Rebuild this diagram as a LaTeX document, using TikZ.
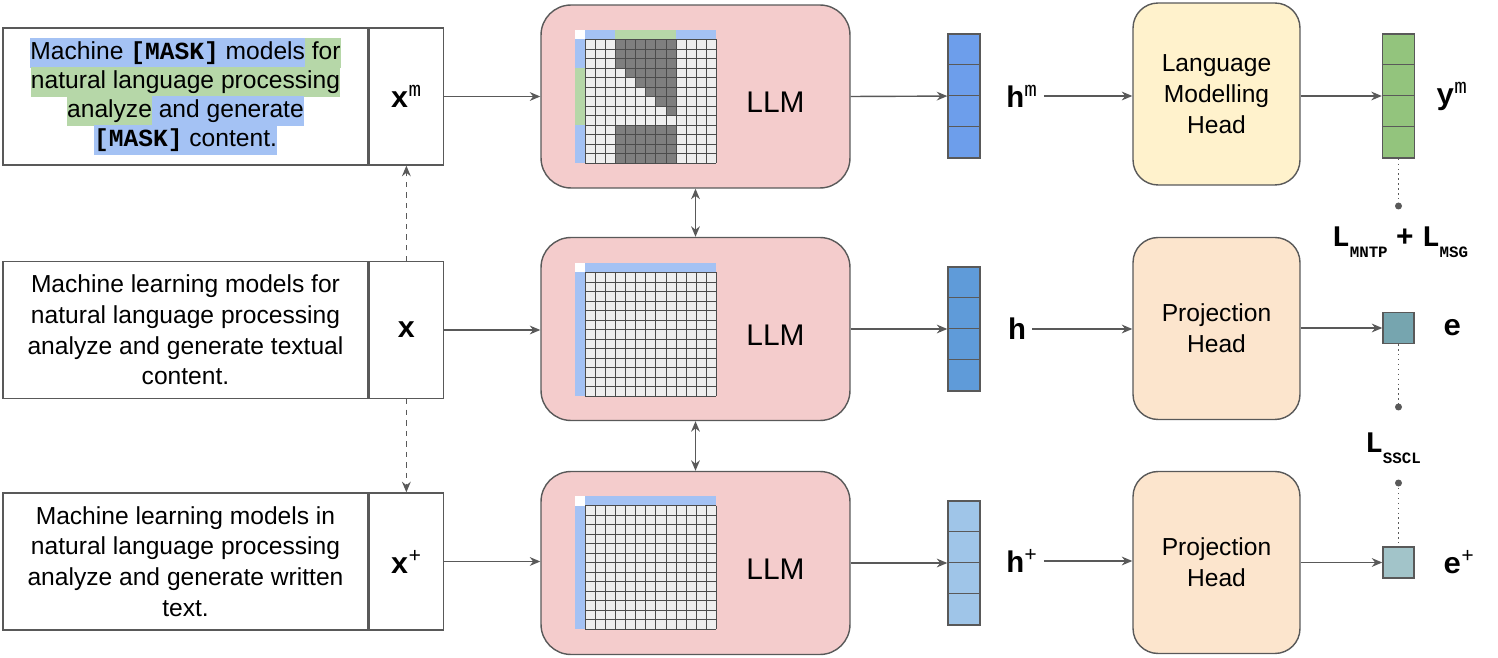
\documentclass[tikz,border=0pt]{standalone}
\usepackage{fontspec}
\setmainfont{Liberation Sans}
\setmonofont{Liberation Mono}
\usepackage{xcolor}
\usetikzlibrary{positioning,arrows.meta}

\definecolor{llmpink}{HTML}{F4CCCC}
\definecolor{edgegray}{HTML}{595959}
\definecolor{hlblue}{HTML}{A4C2F4}
\definecolor{hlgreen}{HTML}{B6D7A8}
\definecolor{cellgray}{HTML}{EFEFEF}
\definecolor{darkcell}{HTML}{7F7F7F}
\definecolor{headyellow}{HTML}{FFF2CC}
\definecolor{headorange}{HTML}{FCE5CD}
\definecolor{vecone}{HTML}{6D9EEB}
\definecolor{vectwo}{HTML}{5F9BD9}
\definecolor{vecthree}{HTML}{9FC5E8}
\definecolor{vecgreen}{HTML}{93C47D}
\definecolor{embone}{HTML}{76A5AF}
\definecolor{embtwo}{HTML}{A2C4C9}

\setlength{\fboxsep}{0pt}
\newcommand{\hlb}[1]{\colorbox{hlblue}{\strut #1}}
\newcommand{\hlg}[1]{\colorbox{hlgreen}{\strut #1}}
\newcommand{\mk}{\texttt{\textbf{[MASK]}}}
\newcommand{\vlab}[2]{\texttt{\textbf{#1}}\textsuperscript{\texttt{#2}}}
\newcommand{\loss}[1]{\texttt{\textbf{L}}\raisebox{-0.7ex}{\texttt{\textbf{\small #1}}}}

% attention grid: top-left corner, masked pattern flag
\newcommand{\attgrid}[3]{%
  \begin{scope}[shift={(#1,#2)}]
    \fill[white] (0,0) rectangle (10.1,9.5);
    \foreach \j in {1,...,13} {
      \pgfmathtruncatemacro\grn{(#3==1)&&(\j>3)&&(\j<10) ? 1 : 0}
      \ifnum\grn=1 \def\hc{hlgreen}\else\def\hc{hlblue}\fi
      \fill[\hc] ({\j*10.1},0) rectangle ({(\j+1)*10.1},9.5);
      \fill[\hc] (0,{\j*9.5}) rectangle (10.1,{(\j+1)*9.5});
    }
    \foreach \i in {1,...,13} \foreach \j in {1,...,13} {
      \pgfmathtruncatemacro\dk{(#3==1)&&(\j>3)&&(\j<10)&&((\i<4)||(\i>9)||(\j>\i)) ? 1 : 0}
      \ifnum\dk=1 \def\cc{darkcell}\else\def\cc{cellgray}\fi
      \fill[\cc] ({\j*10.1},{\i*9.5}) rectangle ({(\j+1)*10.1},{(\i+1)*9.5});
    }
    \foreach \k in {1,...,14} {
      \draw[black!70, line width=0.4pt] ({\k*10.1},9.5) -- ({\k*10.1},133);
      \draw[black!70, line width=0.4pt] (10.1,{\k*9.5}) -- (141.4,{\k*9.5});
    }
  \end{scope}}

% vector of four cells centred at a node
\newcommand{\veccells}[1]{%
  \foreach \k in {1,2,3}
    \draw[edgegray] ([yshift={-\k*0.62cm}]#1.north west) -- ([yshift={-\k*0.62cm}]#1.north east);}

\begin{document}
\begin{tikzpicture}[x=0.02cm, y=-0.02cm,
    txtbox/.style={rectangle, draw=edgegray, thick, minimum width=7.3cm, minimum height=2.74cm, align=center, font=\fontsize{14}{17.5}\selectfont},
    xbox/.style={rectangle, draw=edgegray, thick, minimum width=1.48cm, minimum height=2.74cm, font=\fontsize{17}{20}\selectfont},
    llm/.style={rectangle, rounded corners=0.6cm, draw=edgegray, thick, fill=llmpink, minimum width=6.18cm, minimum height=3.66cm},
    head/.style={rectangle, rounded corners=0.5cm, draw=edgegray, thick, minimum width=3.34cm, minimum height=3.64cm, align=center, font=\fontsize{14}{17.5}\selectfont},
    vec/.style={rectangle, draw=edgegray, thick, minimum width=0.64cm, minimum height=2.48cm, inner sep=0pt},
    emb/.style={rectangle, draw=edgegray, thick, minimum size=0.62cm, inner sep=0pt},
    lab/.style={font=\fontsize{17}{20}\selectfont},
    arrow/.style={-{Stealth[length=6pt, width=5pt]}, edgegray, thick},
    dots/.style={dotted, edgegray, thick}
]
\useasboundingbox (0,0) rectangle (1498,658);

% Inputs
\node[txtbox] (tm) at (185.5,96.5) {\hlb{Machine \mk{} models}\hlg{ for}\\[-1pt]\hlg{natural language processing}\\[-1pt]\hlg{analyze}\hlb{ and generate}\\[-1pt]\hlb{\mk{} content.}};
\node[txtbox] (t) at (185.5,330) {Machine learning models for\\natural language processing\\analyze and generate textual\\content.};
\node[txtbox] (tp) at (185.5,561.5) {Machine learning models in\\natural language processing\\analyze and generate written\\text.};
\node[xbox, right=0pt of tm] (xm) {\vlab{x}{m}};
\node[xbox, right=0pt of t] (x) {\texttt{\textbf{x}}};
\node[xbox, right=0pt of tp] (xp) {\vlab{x}{+}};

\draw[arrow, dashed] (x) -- (xm);
\draw[arrow, dashed] (x) -- (xp);

% Encoders
\node[llm] (llmm) at (695.5,96.5) {};
\node[llm] (llm) at (695.5,329) {};
\node[llm] (llmp) at (695.5,563) {};
\attgrid{575}{30}{1}
\attgrid{575}{263}{0}
\attgrid{575}{496}{0}
\foreach \n in {llmm,llm,llmp}
  \node[font=\fontsize{17}{20}\selectfont] at ([xshift=1.6cm,yshift=-0.12cm]\n.center) {LLM};

\draw[{Stealth[length=6pt, width=5pt]}-{Stealth[length=6pt, width=5pt]}, edgegray, thick] (llmm) -- (llm);
\draw[{Stealth[length=6pt, width=5pt]}-{Stealth[length=6pt, width=5pt]}, edgegray, thick] (llm) -- (llmp);

\draw[arrow] (xm) -- (llmm.west |- xm);
\draw[arrow] (x) -- (llm.west |- x);
\draw[arrow] (xp) -- (llmp.west |- xp);

% Hidden states
\node[vec, fill=vecone] (vm) at (964,96) {};
\node[vec, fill=vectwo] (v) at (964,329) {};
\node[vec, fill=vecthree] (vp) at (964,563) {};
\veccells{vm}\veccells{v}\veccells{vp}
\draw[arrow] (llmm.east) -- (vm);
\draw[arrow] (llm.east) -- (v);
\draw[arrow] (llmp.east) -- (vp);

\node[lab] (hm) at (1022,96) {\vlab{h}{m}};
\node[lab] (h) at (1017,329) {\texttt{\textbf{h}}};
\node[lab] (hp) at (1022,561) {\vlab{h}{+}};

% Heads
\node[head, fill=headyellow] (lmh) at (1216.5,94) {Language\\Modelling\\Head};
\node[head, fill=headorange] (ph) at (1216.5,328.5) {Projection\\Head};
\node[head, fill=headorange] (php) at (1216.5,562.5) {Projection\\Head};
\draw[arrow] (hm) -- (lmh.west |- hm);
\draw[arrow] (h) -- (ph.west |- h);
\draw[arrow] (hp) -- (php.west |- hp);

% Outputs
\node[vec, fill=vecgreen] (ym) at (1398.5,96) {};
\veccells{ym}
\node[emb, fill=embone] (e) at (1398.5,328) {};
\node[emb, fill=embtwo] (ep) at (1398.5,562.5) {};
\draw[arrow] (lmh.east |- ym) -- (ym);
\draw[arrow] (ph.east |- e) -- (e);
\draw[arrow] (php.east |- ep) -- (ep);

\node[lab, right=0.3cm of ym] {\vlab{y}{m}};
\node[lab, right=0.45cm of e] {\texttt{\textbf{e}}};
\node[lab, right=0.45cm of ep] {\vlab{e}{+}};

% Losses
\coordinate (d1) at (1398.5,206);
\coordinate (d2) at (1398.5,407);
\coordinate (d3) at (1398.5,483);
\foreach \d in {d1,d2,d3} \fill[edgegray] (\d) circle (3.5);
\draw[dots] (ym) -- (d1);
\draw[dots] (e) -- (d2);
\draw[dots] (d3) -- (ep);
\node[lab] (lmsg) at (1400,242) {\loss{MNTP} \textbf{+} \loss{MSG}};
\node[lab] (lsscl) at (1393,448) {\loss{SSCL}};

\end{tikzpicture}
\end{document}
